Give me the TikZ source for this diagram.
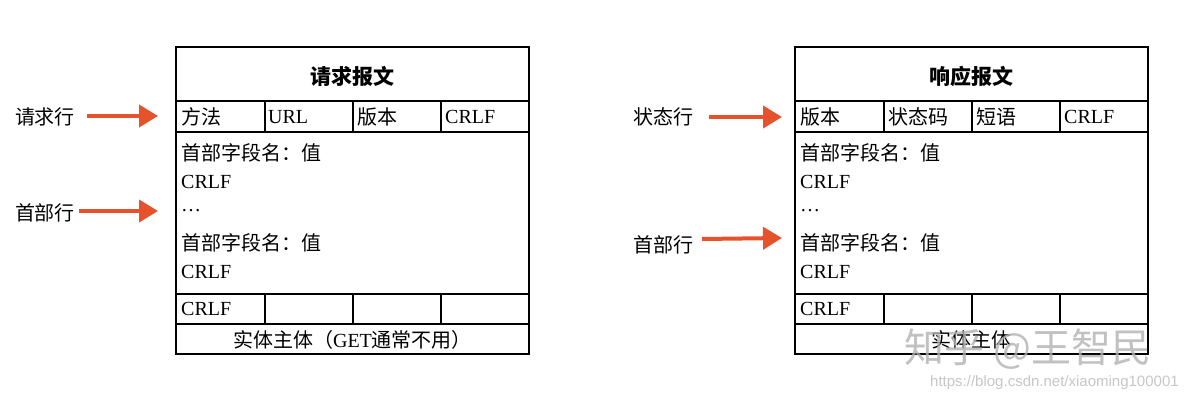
\documentclass[tikz,border=0pt]{standalone}
\usepackage{fontspec}
\setmainfont{Liberation Serif}
\newfontfamily\cjk{Noto Sans CJK SC}
\newfontfamily\wmfont{Liberation Sans}
\usetikzlibrary{arrows.meta}
\definecolor{arr}{HTML}{E6522C}
\begin{document}
\begin{tikzpicture}[x=1pt,y=-1pt,
  boxline/.style={line width=1.3pt, black},
  txt/.style={inner sep=0pt, anchor=west, font=\fontsize{20}{20}\selectfont},
  ctxt/.style={inner sep=0pt, anchor=center, font=\fontsize{20}{20}\selectfont},
  ttl/.style={inner sep=0pt, anchor=center, font=\fontsize{21}{21}\selectfont\cjk\bfseries},
  lbl/.style={inner sep=0pt, anchor=center, font=\fontsize{20}{20}\selectfont\cjk},
  bigarrow/.style={draw=arr, line width=4pt, -{Triangle[length=19pt,width=22pt]}}
]
\useasboundingbox (0,0) rectangle (1200,401);
\fill[white] (0,0) rectangle (1200,401);

% ---------- Left box: request ----------
\draw[boxline] (176,47) rectangle (529,354);
\foreach \yy in {101,132,294,324} \draw[boxline] (176,\yy) -- (529,\yy);
\foreach \xx in {265,353,441} {
  \draw[boxline] (\xx,101) -- (\xx,132);
  \draw[boxline] (\xx,294) -- (\xx,324);
}
\node[ttl] (reqtitle) at (352.5,76) {请求报文};
\node[txt] (req1) at (181,117) {\cjk 方法};
\node[txt] (req2) at (268,117) {URL};
\node[txt] (req3) at (357,117) {\cjk 版本};
\node[txt] (req4) at (445,117) {CRLF};
\node[txt] (reqh1) at (181,153) {\cjk 首部字段名：值};
\node[txt] (reqh2) at (181,182) {CRLF};
\node[txt] (reqh3) at (181,211) {…};
\node[txt] (reqh4) at (181,243) {\cjk 首部字段名：值};
\node[txt] (reqh5) at (181,272) {CRLF};
\node[txt] (reqcr) at (181,309) {CRLF};
\node[ctxt] (reqbody) at (352.5,340) {{\cjk 实体主体（}GET{\cjk 通常不用）}};

\node[lbl] (lreq) at (45,117) {请求行};
\node[lbl] (lhdr) at (45,213) {首部行};
\coordinate (areq) at (158,116);
\coordinate (ahdr) at (158,211);
\draw[bigarrow] ([xshift=12pt]lreq.east) ++(0,-1) -- (areq);
\draw[bigarrow] ([xshift=4pt]lhdr.east) ++(0,-2) -- (ahdr);

% ---------- Right box: response ----------
\draw[boxline] (795,47) rectangle (1148,354);
\foreach \yy in {101,132,294,324} \draw[boxline] (795,\yy) -- (1148,\yy);
\foreach \xx in {884,972,1060} {
  \draw[boxline] (\xx,101) -- (\xx,132);
  \draw[boxline] (\xx,294) -- (\xx,324);
}
\node[ttl] (restitle) at (971.5,76) {响应报文};
\node[txt] (res1) at (800,117) {\cjk 版本};
\node[txt] (res2) at (888,117) {\cjk 状态码};
\node[txt] (res3) at (976,117) {\cjk 短语};
\node[txt] (res4) at (1064,117) {CRLF};
\node[txt] (resh1) at (800,153) {\cjk 首部字段名：值};
\node[txt] (resh2) at (800,182) {CRLF};
\node[txt] (resh3) at (800,211) {…};
\node[txt] (resh4) at (800,243) {\cjk 首部字段名：值};
\node[txt] (resh5) at (800,272) {CRLF};
\node[txt] (rescr) at (800,309) {CRLF};
\node[ctxt] (resbody) at (971.5,340) {\cjk 实体主体};

\node[lbl] (lsta) at (663,117) {状态行};
\node[lbl] (lhdr2) at (663,245) {首部行};
\coordinate (asta) at (782,117);
\coordinate (ahdr2) at (782,238);
\draw[bigarrow] ([xshift=16pt]lsta.east) -- (asta);
\draw[bigarrow] ([xshift=9pt]lhdr2.east) ++(0,-6) -- (ahdr2);

% ---------- watermark ----------
\node[inner sep=0pt, anchor=west, text=black!30, opacity=0.8,
  font=\fontsize{40}{40}\selectfont\cjk] (wm) at (904,349) {知乎 @王智民};
\node[inner sep=0pt, anchor=west, text=black!22,
  font=\fontsize{15}{15}\selectfont\wmfont] (wmurl) at (930,383) {https://blog.csdn.net/xiaoming100001};
\end{tikzpicture}
\end{document}
